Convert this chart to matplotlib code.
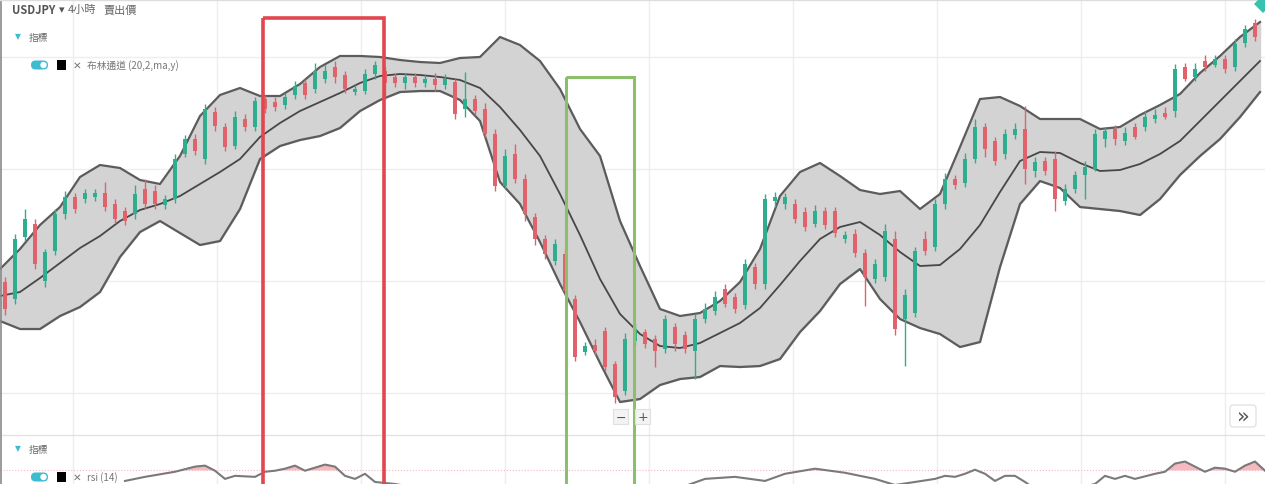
import matplotlib.pyplot as plt
import numpy as np
from matplotlib.patches import Rectangle, FancyBboxPatch, Polygon, Circle

plt.rcParams['font.family'] = ['Noto Sans CJK TC', 'DejaVu Sans']

# 價格以畫面座標表示 (y 軸反轉, 數值越小越高)
opens = [283, 300, 238, 225, 282, 252, 215, 198, 200, 198, 194, 205, 212, 215, 190, 192, 206, 200, 155, 140,
         160, 113, 128, 147, 120, 128, 100, 103, 106, 96, 84, 90, 80, 68, 76, 93, 92, 75, 72, 78,
         84, 78, 84, 80, 86, 83, 110, 100, 110, 135, 187, 155, 180, 218, 240, 262, 255, 300, 353, 346,
         332, 365, 392, 342, 333, 340, 350, 328, 336, 352, 320, 312, 290, 298, 306, 268, 285, 202, 205, 205,
         213, 225, 212, 212, 240, 235, 254, 280, 278, 240, 320, 314, 240, 248, 205, 180, 184, 160, 128, 142,
         155, 136, 130, 172, 162, 160, 202, 190, 176, 170, 140, 130, 142, 128, 128, 120, 114, 112, 68, 78,
         62, 66, 60, 68, 44, 24]
closes = [310, 240, 220, 265, 253, 215, 198, 210, 194, 194, 208, 220, 222, 195, 205, 205, 200, 160, 140, 152,
          110, 127, 148, 118, 128, 102, 110, 108, 98, 87, 96, 72, 72, 78, 90, 90, 75, 66, 84, 84,
          78, 84, 80, 86, 80, 115, 100, 112, 135, 187, 157, 180, 215, 240, 255, 245, 292, 358, 347, 352,
          368, 398, 340, 330, 345, 352, 320, 345, 350, 320, 310, 298, 305, 310, 265, 285, 200, 198, 198, 220,
          228, 212, 226, 234, 236, 254, 278, 265, 232, 330, 296, 252, 252, 205, 180, 186, 160, 128, 150, 162,
          135, 130, 170, 163, 172, 200, 190, 176, 168, 135, 132, 140, 134, 138, 118, 116, 118, 70, 80, 70,
          68, 60, 70, 45, 30, 38]
highs = [278, 235, 210, 220, 250, 210, 192, 194, 190, 190, 183, 200, 208, 186, 180, 186, 196, 155, 136, 135,
         105, 108, 124, 112, 115, 98, 96, 98, 94, 82, 80, 64, 66, 62, 72, 86, 70, 62, 68, 74,
         74, 74, 76, 74, 75, 80, 73, 96, 104, 130, 150, 145, 175, 214, 236, 240, 250, 296, 343, 340,
         328, 362, 334, 324, 330, 336, 316, 324, 332, 315, 304, 292, 285, 294, 260, 264, 195, 193, 194, 200,
         208, 206, 208, 208, 232, 230, 250, 260, 225, 232, 290, 248, 232, 200, 174, 176, 154, 120, 124, 138,
         130, 124, 107, 158, 158, 152, 185, 172, 162, 130, 128, 126, 128, 124, 112, 110, 108, 65, 64, 64,
         56, 56, 56, 40, 26, 20]
lows = [316, 305, 242, 270, 288, 256, 220, 214, 204, 202, 212, 224, 226, 220, 210, 210, 210, 204, 158, 156,
        165, 132, 152, 150, 132, 132, 114, 112, 110, 100, 100, 94, 84, 84, 94, 96, 95, 80, 100, 88,
        90, 88, 88, 92, 90, 120, 118, 116, 138, 192, 190, 184, 222, 246, 260, 266, 296, 362, 356, 356,
        372, 404, 396, 346, 349, 368, 354, 352, 354, 380, 324, 316, 308, 314, 310, 290, 290, 208, 210, 224,
        232, 228, 230, 238, 244, 258, 307, 284, 282, 336, 367, 318, 256, 252, 210, 190, 188, 164, 158, 166,
        160, 140, 185, 178, 176, 212, 206, 194, 200, 172, 148, 146, 146, 140, 132, 124, 120, 118, 82, 82,
        72, 68, 74, 72, 48, 42]

# 布林通道 (20,2) 每兩根K線取樣
band_upper = [270, 250, 226, 208, 178, 166, 169, 181, 185, 157, 117, 96, 89, 97, 97, 85, 68, 57, 57, 58,
              61, 63, 64, 59, 58, 38, 46, 62, 90, 130, 157, 222, 267, 310, 317, 314, 302, 283, 250, 197,
              173, 164, 177, 191, 195, 192, 210, 195, 148, 100, 98, 107, 120, 120, 120, 130, 128, 116, 106, 95,
              74, 57, 38, 23]
band_mid = [297, 293, 279, 264, 249, 237, 222, 211, 205, 197, 185, 173, 160, 138, 124, 112, 103, 94, 84, 77,
            75, 76, 78, 81, 89, 108, 131, 157, 195, 236, 280, 315, 335, 347, 349, 344, 334, 324, 309, 286,
            262, 240, 228, 223, 236, 253, 267, 266, 250, 226, 193, 162, 153, 154, 164, 172, 171, 165, 155, 142,
            122, 102, 82, 62]
band_lower = [322, 330, 330, 317, 308, 293, 258, 233, 222, 234, 246, 242, 210, 160, 147, 141, 137, 129, 112, 101,
              93, 92, 92, 101, 122, 183, 205, 243, 285, 323, 364, 403, 400, 386, 380, 378, 367, 368, 367, 360,
              333, 312, 285, 270, 300, 320, 329, 335, 348, 343, 268, 205, 182, 189, 208, 210, 212, 216, 200, 176,
              157, 140, 118, 93]

# RSI(14)
rsi_idx = [12, 14, 17, 19, 20, 21, 22, 23, 25, 26, 27, 28, 29, 30, 32, 33, 34, 35, 36, 37, 39, 42, 46, 51, 56,
           61, 65, 68, 70, 73, 76, 78, 81, 84, 87, 89, 91, 93, 94, 95, 96, 97, 98, 99, 100, 101, 102, 103, 106,
           109, 110, 111, 112, 113, 115, 116, 117, 118, 119, 120, 121, 122, 123, 124, 125, 126]
rsi_val = [59, 63, 68, 73, 74, 69, 61, 64, 63, 68, 69, 71, 74, 69, 75, 73, 64, 61, 66, 58, 56, 51, 46, 41, 36,
           36, 46, 54, 61, 63, 59, 66, 71, 67, 61, 55, 58, 61, 64, 63, 66, 70, 66, 59, 64, 64, 58, 51, 49,
           56, 64, 61, 64, 61, 66, 68, 76, 78, 73, 68, 72, 71, 68, 74, 78, 69]

GREEN = '#2eae8e'
RED = '#e2626c'
TEAL = '#3dbcd0'

W, H = 1265, 485
fig = plt.figure(figsize=(W / 100, H / 100), dpi=100)
fig.patch.set_facecolor('white')

split = 436
ax = fig.add_axes([0, (H - split) / H, 1, split / H])
ax2 = fig.add_axes([0, 0, 1, (H - split) / H])
for a in (ax, ax2):
    a.set_xlim(-0.5, 126)
    for s in a.spines.values():
        s.set_visible(False)
    a.set_xticks([])
    a.set_yticks([])
ax.set_ylim(split, 0)
ax2.set_ylim(56, 104)

# 網格
for gx in range(73, W, 144):
    ax.axvline((gx - 5) / 10, color='#eeeeee', lw=1, zorder=0)
    ax2.axvline((gx - 5) / 10, color='#eeeeee', lw=1, zorder=0)
for gy in [58, 170, 282, 394]:
    ax.axhline(gy, color='#eeeeee', lw=1, zorder=0)

# 布林通道
bx = np.arange(len(band_upper)) * 2 - 0.5
ax.fill_between(bx, band_upper, band_lower, color='#d3d3d3', zorder=1)
ax.plot(bx, band_upper, color='#5c5c5c', lw=1.6, zorder=2, solid_joinstyle='round')
ax.plot(bx, band_lower, color='#5c5c5c', lw=1.6, zorder=2, solid_joinstyle='round')
ax.plot(bx, band_mid, color='#474747', lw=1.3, zorder=2, solid_joinstyle='round')

# K線
idx = np.arange(len(opens))
o = np.array(opens)
c = np.array(closes)
colors = [GREEN if cc < oo else RED for oo, cc in zip(o, c)]
ax.vlines(idx, highs, lows, colors=colors, lw=1, zorder=3)
body = np.where(np.abs(c - o) < 2, 2, c - o)
ax.bar(idx, body, bottom=o, width=0.4, color=colors, zorder=4)

# RSI
ax2.axhline(70, color='#f2b8bd', lw=0.8, ls=':', zorder=1)
ax2.fill_between(rsi_idx, rsi_val, 70, where=np.array(rsi_val) > 70, interpolate=True,
                 color='#f6b9c0', zorder=2)
ax2.plot(rsi_idx, rsi_val, color='#7a7a7a', lw=1.5, zorder=3)

# 覆蓋層: 文字與標記
ov = fig.add_axes([0, 0, 1, 1])
ov.set_xlim(0, W)
ov.set_ylim(H, 0)
ov.axis('off')

ov.plot([0, W], [split, split], color='#e2e2e2', lw=1)
ov.plot([1, 1], [0, H], color='#8a8a8a', lw=1.2)
ov.plot([0, W], [1, 1], color='#dddddd', lw=1)

ov.text(12, 10, 'USDJPY', fontsize=8, color='#555555', fontweight='bold', va='center')
ov.text(59, 10, '▾', fontsize=8, color='#555555', va='center', family='DejaVu Sans')
ov.text(68, 10, '4小時', fontsize=8, color='#666666', va='center')
ov.text(104, 10, '賣出價', fontsize=8, color='#666666', va='center')

for ty in (38, 450):
    ov.text(15, ty - 1, '▼', fontsize=5.5, color=TEAL, va='center', family='DejaVu Sans')
    ov.text(29, ty, '指標', fontsize=7, color='#666666', va='center')

for ty, label in ((66, '布林通道 (20,2,ma,y)'), (478, 'rsi (14)')):
    ov.add_patch(FancyBboxPatch((31, ty - 4.5), 17, 9, boxstyle='round,pad=0,rounding_size=4.5',
                                fc=TEAL, ec='none'))
    ov.add_patch(Circle((43.5, ty), 3.2, fc='white', ec='none'))
    ov.add_patch(Rectangle((57, ty - 5), 9, 10, fc='black', ec='none'))
    ov.text(73, ty, '✕', fontsize=7.5, color='#777777', va='center', family='DejaVu Sans')
    ov.text(87, ty, label, fontsize=7, color='#777777', va='center')

# 紅框與綠框
ov.add_patch(Rectangle((263, 19), 121, 480, fill=False, ec='#e2474f', lw=2.6, zorder=5))
ov.add_patch(Rectangle((566, 78), 68, 420, fill=False, ec='#8cbf6a', lw=2.2, zorder=5))

# 縮放按鈕
for bx0, sym in ((613, '−'), (635, '+')):
    ov.add_patch(Rectangle((bx0, 410), 15, 15, fc='#f3f3f3', ec='#e0e0e0', lw=0.8, zorder=6))
    ov.text(bx0 + 7.5, 418, sym, fontsize=9, color='#555555', ha='center', va='center', zorder=7,
            family='DejaVu Sans')

ov.add_patch(FancyBboxPatch((1230, 406), 26, 22, boxstyle='round,pad=0,rounding_size=3',
                            fc='white', ec='#dddddd', lw=0.8, zorder=6))
ov.text(1243, 416, '»', fontsize=15, color='#555555', ha='center', va='center', zorder=7,
        family='DejaVu Sans')

ov.add_patch(Polygon([(1254, 5), (1263, -4), (1272, 5), (1263, 14)], closed=True, fc='#36c2b0',
                     ec='none', zorder=6))

fig.savefig('out.png', dpi=100)
